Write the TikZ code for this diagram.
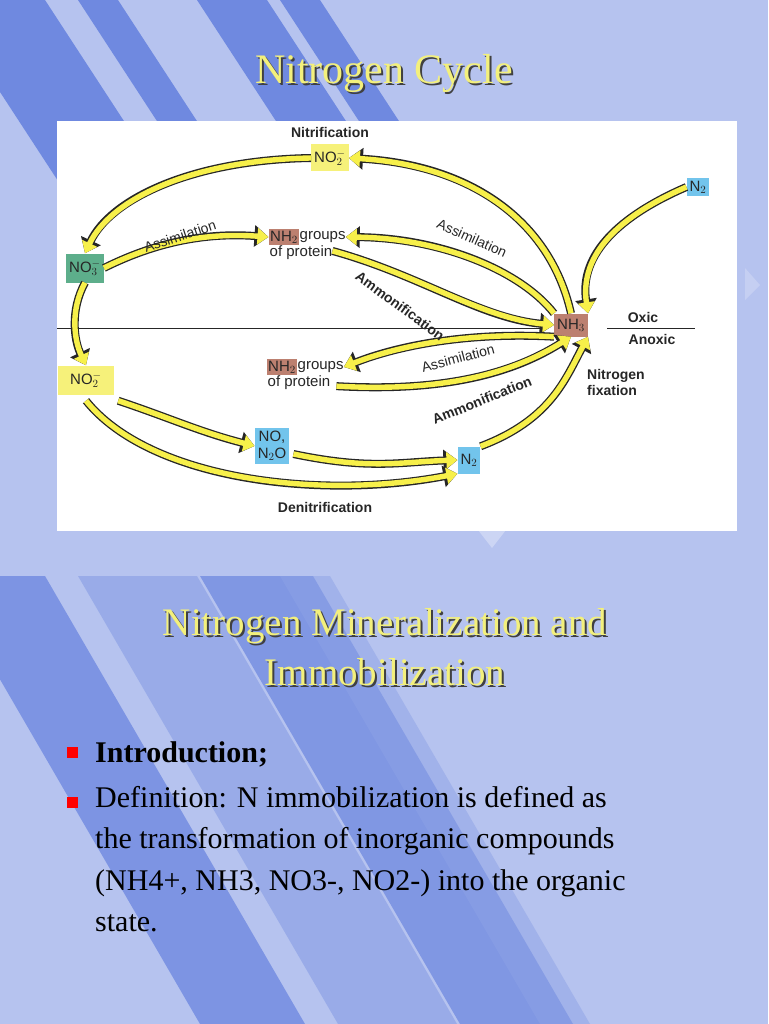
\documentclass[tikz,border=0pt]{standalone}
\usepackage{fontspec}
\setmainfont{Liberation Serif}
\setsansfont{Liberation Sans}
\usetikzlibrary{arrows.meta}
\definecolor{bg}{HTML}{B6C3EF}
\definecolor{stripe}{HTML}{6F89E0}
\definecolor{stripeb}{HTML}{8DA2E6}
\definecolor{ttl}{HTML}{F3F07C}
\definecolor{ylw}{HTML}{F6F17A}
\definecolor{grn}{HTML}{5DAE8B}
\definecolor{brn}{HTML}{BC8070}
\definecolor{blu}{HTML}{72C4EC}
\definecolor{arr}{HTML}{F7F04A}
\definecolor{ink}{HTML}{262626}
\tikzset{
  box/.style={inner sep=3pt, font=\sffamily\fontsize{15}{16}\selectfont, text=ink},
  lbl/.style={font=\sffamily\bfseries\fontsize{14}{16}\selectfont, text=ink, inner sep=0pt},
  albl/.style={font=\sffamily\fontsize{14}{16}\selectfont, text=ink, inner sep=0pt},
  fat/.style={preaction={draw=ink, line width=8pt, -{Triangle[length=14pt,width=21pt]}},
              draw=arr, line width=5.4pt, -{Triangle[length=11pt,width=16pt]}},
  ttlstyle/.style={text=ttl, align=center},
  shd/.style={text=black!75, align=center},
}
\begin{document}
\begin{tikzpicture}[x=1pt,y=-1pt]
\useasboundingbox (0,0) rectangle (768,1024);
\fill[bg] (0,0) rectangle (768,1024);
% top slide stripes
\begin{scope}
\clip (0,0) rectangle (768,560);
\foreach \a/\b in {-60/45,78/118,197/267,280/320}{
  \fill[stripe] (\a,0) -- (\b,0) -- (\b+300,460) -- (\a+300,460) -- cycle;}
\end{scope}
% bottom slide stripes
\begin{scope}
\clip (0,576) rectangle (768,1024);
\fill[stripe,opacity=0.8] (-60,576) -- (45,576) -- (45+260,1024) -- (-60+260,1024) -- cycle;
\fill[stripeb,opacity=0.7] (78,576) -- (197,576) -- (197+260,1024) -- (78+260,1024) -- cycle;
\fill[stripe,opacity=0.75] (200,576) -- (313,576) -- (313+260,1024) -- (200+260,1024) -- cycle;
\fill[stripeb,opacity=0.5] (280,576) -- (330,576) -- (330+260,1024) -- (280+260,1024) -- cycle;
\end{scope}
\fill[bg!70!white] (478,530) -- (506,530) -- (492,548) -- cycle;
\fill[bg!80!white] (745,268) -- (760,285) -- (745,300) -- cycle;
% titles (with shadow)
\node[shd, font=\fontsize{42}{46}\selectfont] (t1s) at (386,75) {Nitrogen Cycle};
\node[ttlstyle, font=\fontsize{42}{46}\selectfont] (t1) at (384,73) {Nitrogen Cycle};
\node[shd, font=\fontsize{39}{50}\selectfont] (t2s) at (387,649) {Nitrogen Mineralization and\\Immobilization};
\node[ttlstyle, font=\fontsize{39}{50}\selectfont] (t2) at (385,647) {Nitrogen Mineralization and\\Immobilization};
% diagram panel
\fill[white] (57,121) rectangle (737,531);
\draw[ink, line width=0.8pt] (57,328) -- (540,328);
\draw[ink, line width=0.8pt] (607,328) -- (695,328);
\node[box, fill=ylw, minimum height=27pt] (no2t) at (330,158) {NO$_2^-$};
\node[box, fill=blu] (n2t) at (698,187) {N$_2$};
\node[box, fill=grn, minimum height=29pt] (no3) at (85,268) {NO$_3^-$};
\node[box, fill=ylw, minimum height=29pt, minimum width=56pt] (no2b) at (86,380) {NO$_2^-$};
\node[box, fill=brn, inner sep=1.5pt] (nh2t) at (284,237) {NH$_2$};
\node[box, anchor=west, inner sep=0pt] (grt) at (nh2t.east) {groups};
\node[box, anchor=north west, inner sep=0pt] (prt) at ([xshift=1pt]nh2t.south west) {of protein};
\node[box, fill=brn, minimum height=23pt] (nh3) at (571,325) {NH$_3$};
\node[box, fill=brn, inner sep=1.5pt] (nh2b) at (282,367) {NH$_2$};
\node[box, anchor=west, inner sep=0pt] (grb) at (nh2b.east) {groups};
\node[box, anchor=north west, inner sep=0pt] (prb) at ([xshift=1pt]nh2b.south west) {of protein};
\node[box, fill=blu, align=center, font=\sffamily\fontsize{15}{17}\selectfont] (non2o) at (272,446) {NO,\\N$_2$O};
\node[box, fill=blu, minimum height=27pt] (n2b) at (469,460) {N$_2$};
\node[lbl] (nitr) at (330,132) {Nitrification};
\node[lbl] (denitr) at (325,507) {Denitrification};
\node[lbl] (oxic) at (643,317) {Oxic};
\node[lbl] (anoxic) at (652,339) {Anoxic};
\node[lbl, align=left] (nfix) at (616,382) {Nitrogen\\fixation};
% arrows
\draw[fat] (no2t.west) .. controls (190,160) and (110,200) .. (no3.north);
\draw[fat] (nh3.north) .. controls (550,220) and (470,165) .. (no2t.east);
\draw[fat] (n2t.west) .. controls (610,220) and (580,260) .. (nh3.north east);
\draw[fat] (no3.east) .. controls (150,245) and (200,232) .. (nh2t.west);
\draw[fat] (nh3.north west) .. controls (520,270) and (440,238) .. (grt.east);
\draw[fat] (prt.north east) ++(0,6) .. controls (420,275) and (480,318) .. (nh3.west);
\draw[fat] (no3.south) .. controls (70,310) and (74,340) .. (no2b.north);
\draw[fat] (nh3.south west) .. controls (470,332) and (400,345) .. (grb.east);
\draw[fat] (prb.east) ++(6,4) .. controls (440,392) and (510,375) .. (nh3.south);
\draw[fat] (n2b.north east) .. controls (550,420) and (565,380) .. (nh3.south east);
\draw[fat] (no2b.south east) ++(4,6) .. controls (170,418) and (200,432) .. (non2o.west);
\draw[fat] (non2o.east) ++(4,8) .. controls (370,470) and (400,462) .. (n2b.west);
\draw[fat] (no2b.south) ++(0,6) .. controls (150,480) and (320,500) .. (n2b.south west);
% arrow labels
\node[albl, rotate=18] (as1) at (180,236) {Assimilation};
\node[albl, rotate=-24] (as2) at (472,238) {Assimilation};
\node[lbl, rotate=-36] (am1) at (400,306) {Ammonification};
\node[albl, rotate=15] (as3) at (458,358) {Assimilation};
\node[lbl, rotate=22] (am2) at (482,400) {Ammonification};
% bullets
\fill[red] (67,747) rectangle (78,758);
\fill[red] (67,797) rectangle (78,808);
\node[anchor=base west, inner sep=0pt, font=\bfseries\fontsize{30}{42}\selectfont] (intro) at (95,762) {Introduction;};
\node[anchor=north west, inner sep=0pt, align=left, font=\fontsize{30}{41.5}\selectfont] (defn) at (95,786)
 {Definition: N immobilization is defined as\\the transformation of inorganic compounds\\(NH4+, NH3, NO3-, NO2-) into the organic\\state.};
\end{tikzpicture}
\end{document}
